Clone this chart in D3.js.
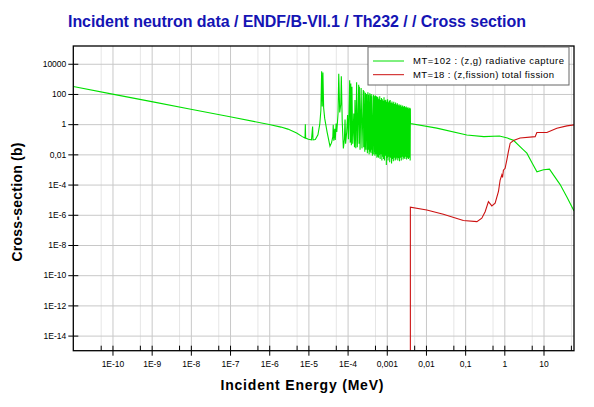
<!DOCTYPE html>
<html>
<head>
<meta charset="utf-8">
<script src="https://cdn.jsdelivr.net/npm/d3@7"></script>
<style>
  body { margin: 0; background: #fff; }
  svg { display: block; font-family: "Liberation Sans", Arial, sans-serif; }
  .tick text { font-size: 8.5px; fill: #000; }
</style>
</head>
<body>
<div id="chart"></div>
<script>
const width = 594, height = 407;

// Plot frame (px)
const plotLeft = 73.3, plotRight = 574, plotTop = 46, plotBottom = 350.7;

// Axis ticks
const xTickValues = [1e-10, 1e-9, 1e-8, 1e-7, 1e-6, 1e-5, 1e-4, 1e-3, 1e-2, 1e-1, 1, 10];
const xTickLabels = ['1E-10', '1E-9', '1E-8', '1E-7', '1E-6', '1E-5', '1E-4', '0,001', '0,01', '0,1', '1', '10'];
const xMinorTicks = [5e-11, 5e-10, 5e-9, 5e-8, 5e-7, 5e-6, 5e-5, 5e-4, 5e-3, 5e-2, 0.5, 5, 50];
const yTickValues = [1e-14, 1e-12, 1e-10, 1e-8, 1e-6, 1e-4, 1e-2, 1, 100, 10000];
const yTickLabels = ['1E-14', '1E-12', '1E-10', '1E-8', '1E-6', '1E-4', '0,01', '1', '100', '10000'];

const seriesNames = ['MT=102 : (z,g) radiative capture', 'MT=18 : (z,fission) total fission'];

// MT=102 capture [energy MeV, cross-section b]
const capture = [
  [1e-11, 310], [1e-10, 98], [1e-9, 31], [1e-8, 9.8], [1e-7, 3.1], [1e-6, 0.95],
  [2e-6, 0.64], [3e-6, 0.47], [5e-6, 0.26], [7e-6, 0.15], [8.2e-6, 0.12], [8.35e-6, 1.0],
  [8.5e-6, 0.12], [1.0e-5, 0.1], [1.2e-5, 0.092], [1.28e-5, 0.7], [1.31e-5, 0.09],
  [1.5e-5, 0.095], [1.75e-5, 0.2], [1.95e-5, 1.0], [2.08e-5, 8], [2.178e-5, 3200],
  [2.26e-5, 15], [2.345e-5, 2600], [2.45e-5, 12], [2.6e-5, 2.5], [3.0e-5, 0.3],
  [3.55e-5, 0.035], [3.9e-5, 0.06], [4.2e-5, 0.15], [4.3e-5, 0.9], [4.45e-5, 0.08],
  [4.7e-5, 0.5], [4.85e-5, 0.09], [5.1e-5, 1.1], [5.3e-5, 0.3], [5.7e-5, 5],
  [5.95e-5, 2200], [6.3e-5, 6], [6.7e-5, 20], [6.92e-5, 1500], [7.3e-5, 1.5],
  [7.8e-5, 0.025], [8.3e-5, 0.1], [8.6e-5, 2], [8.9e-5, 0.05], [9.5e-5, 0.3],
  [1.0e-4, 4], [1.05e-4, 0.1], [1.13e-4, 800], [1.17e-4, 0.06], [1.208e-4, 500],
  [1.25e-4, 0.04], [1.292e-4, 300], [1.35e-4, 0.05], [1.44e-4, 5], [1.5e-4, 0.03],
  [1.544e-4, 40], [1.62e-4, 0.025], [1.7e-4, 600], [1.77e-4, 0.03], [1.921e-4, 400],
  [1.96e-4, 0.05], [1.997e-4, 300], [2.08e-4, 0.02], [2.215e-4, 250], [2.33e-4, 0.025],
  [2.519e-4, 180], [2.58e-4, 0.03], [2.63e-4, 150], [2.75e-4, 0.015], [2.856e-4, 120],
  [2.95e-4, 0.02], [3.055e-4, 100], [3.2e-4, 0.012], [3.295e-4, 130], [3.36e-4, 0.02],
  [3.423e-4, 90], [3.55e-4, 0.01], [3.695e-4, 110], [3.8e-4, 0.015], [3.882e-4, 80],
  [3.95e-4, 0.012], [4.011e-4, 100], [4.07e-4, 0.02], [4.12e-4, 70], [4.3e-4, 0.008],
  [4.542e-4, 90], [4.65e-4, 0.01], [4.776e-4, 75], [4.82e-4, 0.015], [4.876e-4, 60],
  [5.0e-4, 0.008], [5.145e-4, 80], [5.23e-4, 0.01], [5.31e-4, 55], [5.38e-4, 0.012],
  [5.44e-4, 70], [5.6e-4, 0.006], [5.7e-4, 60], [5.8e-4, 0.009], [5.89e-4, 65],
  [5.98e-4, 0.007], [6.057e-4, 50], [6.2e-4, 0.006], [6.3e-4, 45], [6.45e-4, 0.009],
  [6.6e-4, 70], [6.78e-4, 0.005], [6.95e-4, 40], [7.1e-4, 0.01], [7.3e-4, 55],
  [7.5e-4, 0.004], [7.7e-4, 45], [7.9e-4, 0.007], [8.1e-4, 35], [8.3e-4, 0.005],
  [8.5e-4, 60], [8.75e-4, 0.004], [9.0e-4, 38], [9.25e-4, 0.008], [9.5e-4, 42],
  [9.75e-4, 0.002], [1.0e-3, 30], [1.025e-3, 0.006], [1.05e-3, 45], [1.075e-3, 0.004],
  [1.1e-3, 28], [1.13e-3, 0.007], [1.16e-3, 35], [1.19e-3, 0.003], [1.22e-3, 40],
  [1.255e-3, 0.006], [1.29e-3, 26], [1.325e-3, 0.0025], [1.36e-3, 32], [1.395e-3, 0.005],
  [1.43e-3, 24], [1.47e-3, 0.0035], [1.51e-3, 30], [1.55e-3, 0.006], [1.59e-3, 22],
  [1.635e-3, 0.004], [1.68e-3, 27], [1.725e-3, 0.0045], [1.77e-3, 20], [1.815e-3, 0.006],
  [1.86e-3, 24], [1.91e-3, 0.004], [1.96e-3, 18], [2.01e-3, 0.0055], [2.06e-3, 21],
  [2.115e-3, 0.0035], [2.17e-3, 17], [2.23e-3, 0.006], [2.29e-3, 19], [2.35e-3, 0.004],
  [2.41e-3, 15], [2.475e-3, 0.007], [2.54e-3, 17], [2.61e-3, 0.0045], [2.68e-3, 14],
  [2.75e-3, 0.006], [2.82e-3, 16], [2.895e-3, 0.005], [2.97e-3, 13], [3.05e-3, 0.007],
  [3.13e-3, 15], [3.215e-3, 0.0045], [3.3e-3, 12], [3.39e-3, 0.006], [3.48e-3, 13],
  [3.57e-3, 0.005], [3.66e-3, 11], [3.76e-3, 0.006], [3.86e-3, 12], [3.95e-3, 0.004],
  [4.0e-3, 11], [4.02e-3, 1.1], [0.0189, 0.55], [0.11, 0.19], [0.3, 0.15], [0.75, 0.165],
  [1.2, 0.12], [1.71, 0.085], [3.07, 0.02], [3.76, 0.012], [5.0, 0.003], [6.8, 7e-4],
  [10, 9.5e-4], [14.2, 1.05e-3], [17.9, 4.4e-4], [26.6, 1e-4], [39.5, 1.5e-5], [60, 1.8e-6]
];

// MT=18 fission [energy MeV, cross-section b]
const fission = [
  [4.0e-3, 0], [4.0e-3, 3.2e-6], [0.0105, 2.1e-6], [0.0278, 1.1e-6], [0.09, 4.2e-7],
  [0.2, 3.5e-7], [0.266, 5.9e-7], [0.324, 1.6e-6], [0.393, 7.4e-6], [0.48, 3.9e-6],
  [0.582, 5.9e-6], [0.709, 3.5e-5], [0.782, 2e-4], [0.863, 4.4e-4], [0.9, 3e-4],
  [0.948, 9e-4], [1.047, 1.2e-3], [1.16, 4.3e-3], [1.27, 0.015], [1.41, 0.055],
  [1.71, 0.082], [2.53, 0.12], [6.12, 0.15], [6.76, 0.28], [12.2, 0.28], [21.9, 0.54],
  [39.5, 0.77], [60, 0.9]
];

const svg = d3.select('#chart').append('svg')
  .attr('width', width)
  .attr('height', height);

const x = d3.scaleLog().domain([1e-11, 60]).range([plotLeft, plotRight]);
const y = d3.scaleLog().domain([1e-15, 1.5e5]).range([plotBottom, plotTop]);

// Grid
svg.append('g')
  .attr('transform', `translate(0,${plotBottom})`)
  .call(d3.axisBottom(x).tickValues(xMinorTicks).tickSize(-(plotBottom - plotTop)).tickFormat(''))
  .call(g => g.select('.domain').remove())
  .selectAll('line').attr('stroke', '#e6e6e6');
svg.append('g')
  .attr('transform', `translate(0,${plotBottom})`)
  .call(d3.axisBottom(x).tickValues(xTickValues).tickSize(-(plotBottom - plotTop)).tickFormat(''))
  .call(g => g.select('.domain').remove())
  .selectAll('line').attr('stroke', '#c8c8c8');
svg.append('g')
  .attr('transform', `translate(${plotLeft},0)`)
  .call(d3.axisLeft(y).tickValues(yTickValues).tickSize(-(plotRight - plotLeft)).tickFormat(''))
  .call(g => g.select('.domain').remove())
  .selectAll('line').attr('stroke', '#c8c8c8');

// Curves
svg.append('clipPath').attr('id', 'plot')
  .append('rect').attr('x', plotLeft).attr('y', plotTop)
  .attr('width', plotRight - plotLeft).attr('height', plotBottom - plotTop);

const line = d3.line()
  .x(d => x(d[0]))
  .y(d => d[1] > 0 ? y(d[1]) : plotBottom + 2);

svg.append('path')
  .datum(capture)
  .attr('clip-path', 'url(#plot)')
  .attr('fill', 'none')
  .attr('stroke', '#00e000')
  .attr('stroke-width', 1.1)
  .attr('d', line);

svg.append('path')
  .datum(fission)
  .attr('clip-path', 'url(#plot)')
  .attr('fill', 'none')
  .attr('stroke', '#cc1111')
  .attr('stroke-width', 1.1)
  .attr('d', line);

// Axes
svg.append('g')
  .attr('transform', `translate(0,${plotBottom})`)
  .call(d3.axisBottom(x).tickValues(xTickValues).tickSize(5).tickPadding(5)
    .tickFormat((d, i) => xTickLabels[i]))
  .call(g => g.select('.domain').remove())
  .call(g => g.selectAll('line').attr('y1', -5).attr('stroke', '#000'));
svg.append('g')
  .attr('transform', `translate(0,${plotBottom})`)
  .call(d3.axisTop(x).tickValues(xMinorTicks).tickSize(5).tickFormat(''))
  .call(g => g.select('.domain').remove())
  .selectAll('line').attr('stroke', '#000');
svg.append('g')
  .attr('transform', `translate(${plotLeft},0)`)
  .call(d3.axisLeft(y).tickValues(yTickValues).tickSize(5).tickPadding(2)
    .tickFormat((d, i) => yTickLabels[i]))
  .call(g => g.select('.domain').remove())
  .call(g => g.selectAll('line').attr('x1', 5).attr('stroke', '#000'));

svg.append('rect')
  .attr('x', plotLeft).attr('y', plotTop)
  .attr('width', plotRight - plotLeft).attr('height', plotBottom - plotTop)
  .attr('fill', 'none').attr('stroke', '#000').attr('stroke-width', 1.3);

// Legend
const legend = svg.append('g').attr('transform', 'translate(368,47)');
legend.append('rect')
  .attr('width', 201).attr('height', 38)
  .attr('fill', '#fff').attr('stroke', '#666');
[['#00e000', 14], ['#cc1111', 27.7]].forEach(([c, ly], i) => {
  legend.append('line').attr('x1', 5).attr('x2', 36).attr('y1', ly).attr('y2', ly)
    .attr('stroke', c).attr('stroke-width', 1);
  legend.append('text').attr('x', 45).attr('y', ly + 3.3)
    .attr('font-size', 9.5)
    .attr('textLength', i === 0 ? 151 : 141)
    .text(seriesNames[i]);
});

// Titles
svg.append('text')
  .attr('x', 297).attr('y', 27)
  .attr('text-anchor', 'middle')
  .attr('font-size', 16).attr('font-weight', 'bold')
  .attr('fill', '#1414b4')
  .attr('textLength', 458)
  .text('Incident neutron data / ENDF/B-VII.1 / Th232 / / Cross section');

svg.append('text')
  .attr('x', 302).attr('y', 390)
  .attr('text-anchor', 'middle')
  .attr('font-size', 14).attr('font-weight', 'bold')
  .attr('textLength', 163)
  .text('Incident Energy (MeV)');

svg.append('text')
  .attr('transform', 'translate(22,202) rotate(-90)')
  .attr('text-anchor', 'middle')
  .attr('font-size', 14).attr('font-weight', 'bold')
  .attr('textLength', 119)
  .text('Cross-section (b)');
</script>
</body>
</html>
